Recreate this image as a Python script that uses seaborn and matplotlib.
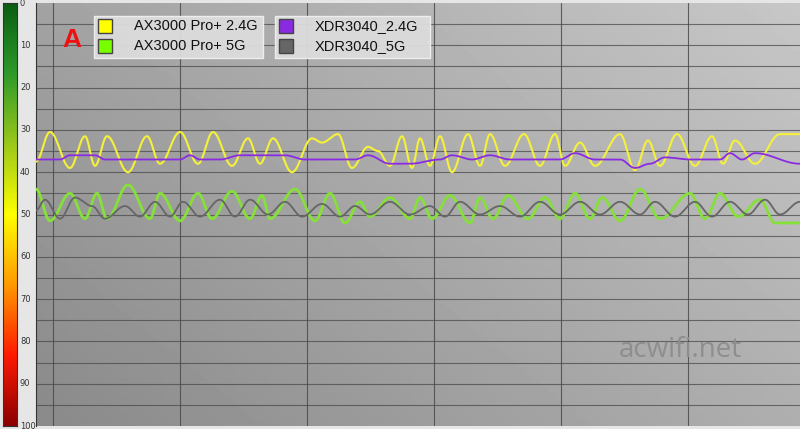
import numpy as np
import pandas as pd
import matplotlib
matplotlib.use("Agg")
import matplotlib.pyplot as plt
import seaborn as sns
from matplotlib.colors import LinearSegmentedColormap
from matplotlib.patches import Rectangle

sns.set_style("white")

series_names = ["AX3000 Pro+ 2.4G", "AX3000 Pro+ 5G", "XDR3040_2.4G", "XDR3040_5G"]
series_colors = ["#f5f03a", "#86e03a", "#8a2be2", "#666666"]

# extrema (time, value)
yel_t = [0,14,34,49,59,71,92,111,124,144,162,177,196,212,224,237,256,276,286,302,316,332,342,354,366,376,384,394,404,416,432,444,454,469,488,504,519,529,544,559,584,599,612,624,641,659,676,687,699,719,744,764]
yel_v = [37.5,30.5,39,31.5,38.5,31.5,40,31.5,38,30.5,38,30.5,38.5,32,38,32,40,32,33,31,39,34,35,38.5,31.5,39,32,38.5,31.5,40,31,38.5,31,38.5,31,38.5,31,38.5,33,38.5,31,39.5,32.5,38.5,31,38.5,31.5,38,32.5,38,31,31]
pur_t = [0,24,34,59,69,144,154,164,184,204,249,269,319,332,354,374,404,416,436,454,474,524,539,559,584,599,614,629,654,684,694,706,719,764]
pur_v = [37,37,36,36,37,37,36,37,37,36,36,37,37,36,38,38,37,36,37,36,37,37,35.5,37,37,39,38,36.5,37,37,35.5,37,35.5,38]
grn_t = [0,14,34,49,61,71,92,114,124,144,162,176,196,214,226,234,259,279,294,309,324,334,354,374,384,396,414,434,444,457,472,492,509,524,539,554,566,584,604,624,654,669,684,702,724,739,764]
grn_v = [44,51.5,45,51,45,51,43,51,45,51.5,45,51,44.5,51,45.5,51,44,51.5,45,52,47,50.5,46,51,46,51,45.5,52,46,51,45.5,51,46,51,45,51,46,51.5,44,51,45,51,45,50.5,46.5,52,52]
gry_t = [0,9,24,39,56,69,89,104,119,134,147,164,184,199,214,232,249,266,286,304,319,334,354,374,394,409,424,444,464,484,504,524,544,564,584,604,619,639,659,676,694,712,729,744,764]
gry_v = [49,46.5,51,46,48,51,48,50.5,47,50.5,47,50.5,46.5,50.5,46.5,50,47,50.5,47.5,50.5,48,50,47,50,48,50.5,47,50,48,50.5,47,50,47,50,47,50,47,50.5,47,50.5,47,50,46.5,50,47]

def smooth(t, v, n=6):
    xs, ys = [], []
    for i in range(len(t) - 1):
        s = np.linspace(0, 1, n * max(1, int(t[i+1] - t[i]) // 3), endpoint=False)
        e = (1 - np.cos(np.pi * s)) / 2
        xs.append(t[i] + (t[i+1] - t[i]) * s)
        ys.append(v[i] + (v[i+1] - v[i]) * e)
    xs.append([t[-1]]); ys.append([v[-1]])
    return np.concatenate(xs), np.concatenate(ys)

frames = []
for name, (t, v) in zip(series_names, [(yel_t, yel_v), (grn_t, grn_v), (pur_t, pur_v), (gry_t, gry_v)]):
    x, y = smooth(t, v)
    frames.append(pd.DataFrame({"t": x, "v": y, "s": name}))
df = pd.concat(frames)

W, H = 800, 429
fig = plt.figure(figsize=(8, 4.29), dpi=100)
fig.patch.set_facecolor("#e6e6e6")

ax = fig.add_axes([36/W, 3/H, 764/W, 423/H])
gx, gy = np.meshgrid(np.linspace(0, 1, 200), np.linspace(0, 1, 100))
grad = 0.54 + 0.24 * (0.6 * gx + 0.4 * gy)
ax.imshow(grad, cmap="gray", vmin=0, vmax=1, extent=[0, 764, 100, 0], aspect="auto", zorder=0, origin="lower")
for yv in range(5, 100, 5):
    ax.axhline(yv, color="#4a4a4a", lw=0.8, alpha=0.75, zorder=1)
for xv in range(17, 764, 127):
    ax.axvline(xv, color="#4a4a4a", lw=0.8, alpha=0.85, zorder=1)

palette = dict(zip(series_names, series_colors))
widths = {"AX3000 Pro+ 2.4G": 1.5, "AX3000 Pro+ 5G": 2.0, "XDR3040_2.4G": 1.3, "XDR3040_5G": 1.3}
for name in series_names:
    sns.lineplot(data=df[df.s == name], x="t", y="v", color=palette[name], lw=widths[name],
                 ax=ax, legend=False, zorder=3, sort=False, estimator=None)
ax.set_xlim(0, 764); ax.set_ylim(100, 0)
ax.set_xticks([]); ax.set_yticks([])
ax.set_xlabel(""); ax.set_ylabel("")
for sp in ax.spines.values():
    sp.set_visible(False)
ax.spines["left"].set_visible(True); ax.spines["left"].set_color("#333333")

cax = fig.add_axes([3/W, 3/H, 14/W, 423/H])
cmap = LinearSegmentedColormap.from_list("q", ["#0a5e12", "#2e9a2a", "#9bc81a", "#ffff00", "#ff9900", "#ff1a00", "#8b0000"])
cax.imshow(np.linspace(0, 1, 256)[:, None], cmap=cmap, aspect="auto", extent=[0, 1, 100, 0])
cax.set_xticks([]); cax.set_yticks([])
for sp in cax.spines.values():
    sp.set_color("#333333")
ticks = list(range(0, 101, 10))
for tk in ticks:
    fig.text(20/W, 1 - (3 + tk * 4.23) / H, str(tk), fontsize=6, color="#333333", va="center", ha="left")

def legend_box(x0, x1, entries):
    fig.patches.append(Rectangle((x0/W, 1 - 58/H), (x1 - x0)/W, 42/H, transform=fig.transFigure,
                                 facecolor="#dcdcdc", edgecolor="#f0f0f0", lw=1, alpha=0.95, zorder=5))
    for i, (lab, col) in enumerate(entries):
        yc = 26 + i * 20
        fig.patches.append(Rectangle(((x0 + 4)/W, 1 - (yc + 7)/H), 14/W, 14/H, transform=fig.transFigure,
                                     facecolor=col, edgecolor="#444444", lw=1, zorder=6))
        fig.text((x0 + 40)/W, 1 - yc/H, lab, fontsize=10.5, color="#111111", va="center", ha="left",
                 family="Liberation Sans", zorder=7)

legend_box(94, 263, [(series_names[0], "#ffff00"), (series_names[1], "#77ff00")])
legend_box(275, 430, [(series_names[2], "#8a2be2"), (series_names[3], "#666666")])

fig.text(62/W, 1 - 40/H, "A", fontsize=19, color="#ee1111", weight="bold", va="center", ha="left",
         family="Liberation Sans")
fig.text(680/W, 1 - 350/H, "acwifi.net", fontsize=20, color="#8e8e8e", va="center", ha="center",
         family="Open Sans")

fig.savefig("out.png", dpi=100)
